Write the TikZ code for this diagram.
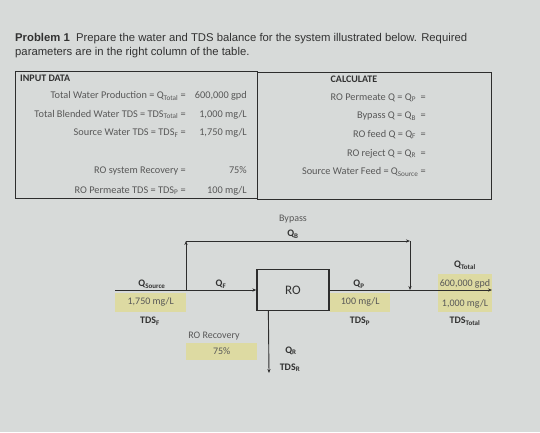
\documentclass[tikz,border=0pt]{standalone}
\usepackage{fontspec}
\setmainfont{Carlito}
\newfontfamily\probfont{Liberation Sans}
\usetikzlibrary{arrows.meta}
\definecolor{pagebg}{RGB}{215,218,217}
\definecolor{hlyel}{RGB}{221,218,162}
\definecolor{inkdark}{RGB}{50,50,50}
\definecolor{inkgray}{RGB}{88,88,88}
\definecolor{linec}{RGB}{45,45,45}
\tikzset{
 probtxt/.style={font=\probfont\fontsize{11.3}{13}\selectfont, text=inkdark, anchor=base west, inner sep=0},
 tabtxt/.style={font=\fontsize{10.3}{12}\selectfont, text=inkgray, anchor=base east, inner sep=0},
 tabhead/.style={font=\bfseries\fontsize{10}{12}\selectfont, text=inkdark, inner sep=0},
 tabbox/.style={draw=linec, line width=1pt, anchor=north west, inner sep=0},
 lbl/.style={font=\fontsize{10}{12}\selectfont, text=inkgray, inner sep=0},
 qlbl/.style={font=\bfseries\fontsize{10}{12}\selectfont, text=inkdark, inner sep=0},
 hlbox/.style={fill=hlyel, inner sep=0, anchor=north west, font=\fontsize{10}{12}\selectfont, text=inkgray},
 flow/.style={draw=linec, line width=0.9pt, -{Stealth[length=4pt,width=3.2pt]}},
 robox/.style={draw=linec, line width=1.3pt, minimum width=72pt, minimum height=41pt, inner sep=0, font=\fontsize{13}{15}\selectfont, text=inkdark},
}
\begin{document}
\begin{tikzpicture}[x=1pt,y=-1pt]
\fill[pagebg] (0,0) rectangle (540,432);
\useasboundingbox (0,0) rectangle (540,432);

% problem statement
\node[probtxt] (p1) at (15,41) {\textbf{Problem 1}\ \ Prepare the water and TDS balance for the system illustrated below. Required};
\node[probtxt] (p2) at (15,55) {parameters are in the right column of the table.};

% table
\node[tabbox, minimum width=242pt, minimum height=127pt] (inbox) at (15,71) {};
\node[tabbox, minimum width=234pt, minimum height=127pt] (calcbox) at (257,72) {};
\node[tabhead, anchor=base west] (inhead) at (20,81.2) {INPUT DATA};
\node[tabhead, anchor=base] (calchead) at (354,82.5) {CALCULATE};

\node[tabtxt] (l1) at (186,98.5) {Total Water Production = Q\textsubscript{Total} =};
\node[tabtxt] (l2) at (186,117) {Total Blended Water TDS = TDS\textsubscript{Total} =};
\node[tabtxt] (l3) at (186,135.5) {Source Water TDS = TDS\textsubscript{F} =};
\node[tabtxt] (l4) at (186,173.5) {RO system Recovery =};
\node[tabtxt] (l5) at (186,193) {RO Permeate TDS = TDS\textsubscript{P} =};
\node[tabtxt] (v1) at (247,98.5) {600,000 gpd};
\node[tabtxt] (v2) at (247,117) {1,000 mg/L};
\node[tabtxt] (v3) at (247,135.5) {1,750 mg/L};
\node[tabtxt] (v4) at (247,173.5) {75\%};
\node[tabtxt] (v5) at (247,193) {100 mg/L};

\node[tabtxt] (r1) at (426,100.2) {RO Permeate Q = Q\textsubscript{P}\ \ =};
\node[tabtxt] (r2) at (426,118.5) {Bypass Q = Q\textsubscript{B}\ \ =};
\node[tabtxt] (r3) at (426,137) {RO feed Q = Q\textsubscript{F}\ \ =};
\node[tabtxt] (r4) at (426,156) {RO reject Q = Q\textsubscript{R}\ \ =};
\node[tabtxt] (r5) at (426,174.5) {Source Water Feed = Q\textsubscript{Source} =};

% highlights
\node[hlbox, minimum width=71pt, minimum height=19pt] (hlF) at (115,292.5) {1,750 mg/L};
\node[hlbox, minimum width=60pt, minimum height=19pt] (hlP) at (330,292.5) {100 mg/L};
\node[hlbox, minimum width=54pt, minimum height=38pt] (hlT) at (438,274) {};
\node[hlbox, minimum width=71pt, minimum height=16.5pt] (hlR) at (186,343) {75\%};
\node[lbl] (vT1) at (465,284) {600,000 gpd};
\node[lbl] (vT2) at (465,303.5) {1,000 mg/L};

% flow sheet
\node[robox] (RO) at (293,290) {RO};
\coordinate (src) at (115,290);
\coordinate (jL) at (186,290);
\coordinate (cTL) at (186,241);
\coordinate (cTR) at (410,241);
\coordinate (jR) at (410,290);
\coordinate (outE) at (492,290);
\coordinate (rejEnd) at (269,373);

\draw[flow] (src) -- (RO.west);
\draw[flow] (jL) -- (cTL);
\draw[flow] (cTL) -- (cTR);
\draw[flow] (cTR) -- (jR);
\draw[flow] (RO.east) -- (outE);
\draw[flow] ([xshift=12pt]RO.south west) -- (rejEnd);

% labels
\node[lbl] (byp) at (293,219) {Bypass};
\node[qlbl] (qB) at (293,234.3) {Q\textsubscript{B}};
\node[qlbl] (qT) at (465,265) {Q\textsubscript{Total}};
\node[qlbl] (qS) at (152,284) {Q\textsubscript{Source}};
\node[qlbl] (qF) at (221,284) {Q\textsubscript{F}};
\node[qlbl] (qP) at (359,284) {Q\textsubscript{P}};
\node[qlbl] (tF) at (150,321) {TDS\textsubscript{F}};
\node[qlbl] (tP) at (360,321) {TDS\textsubscript{P}};
\node[qlbl] (tT) at (465,321) {TDS\textsubscript{Total}};
\node[lbl] (rec) at (214,335.7) {RO Recovery};
\node[qlbl] (qR) at (291,350.5) {Q\textsubscript{R}};
\node[qlbl] (tR) at (290,367.5) {TDS\textsubscript{R}};
\end{tikzpicture}
\end{document}
